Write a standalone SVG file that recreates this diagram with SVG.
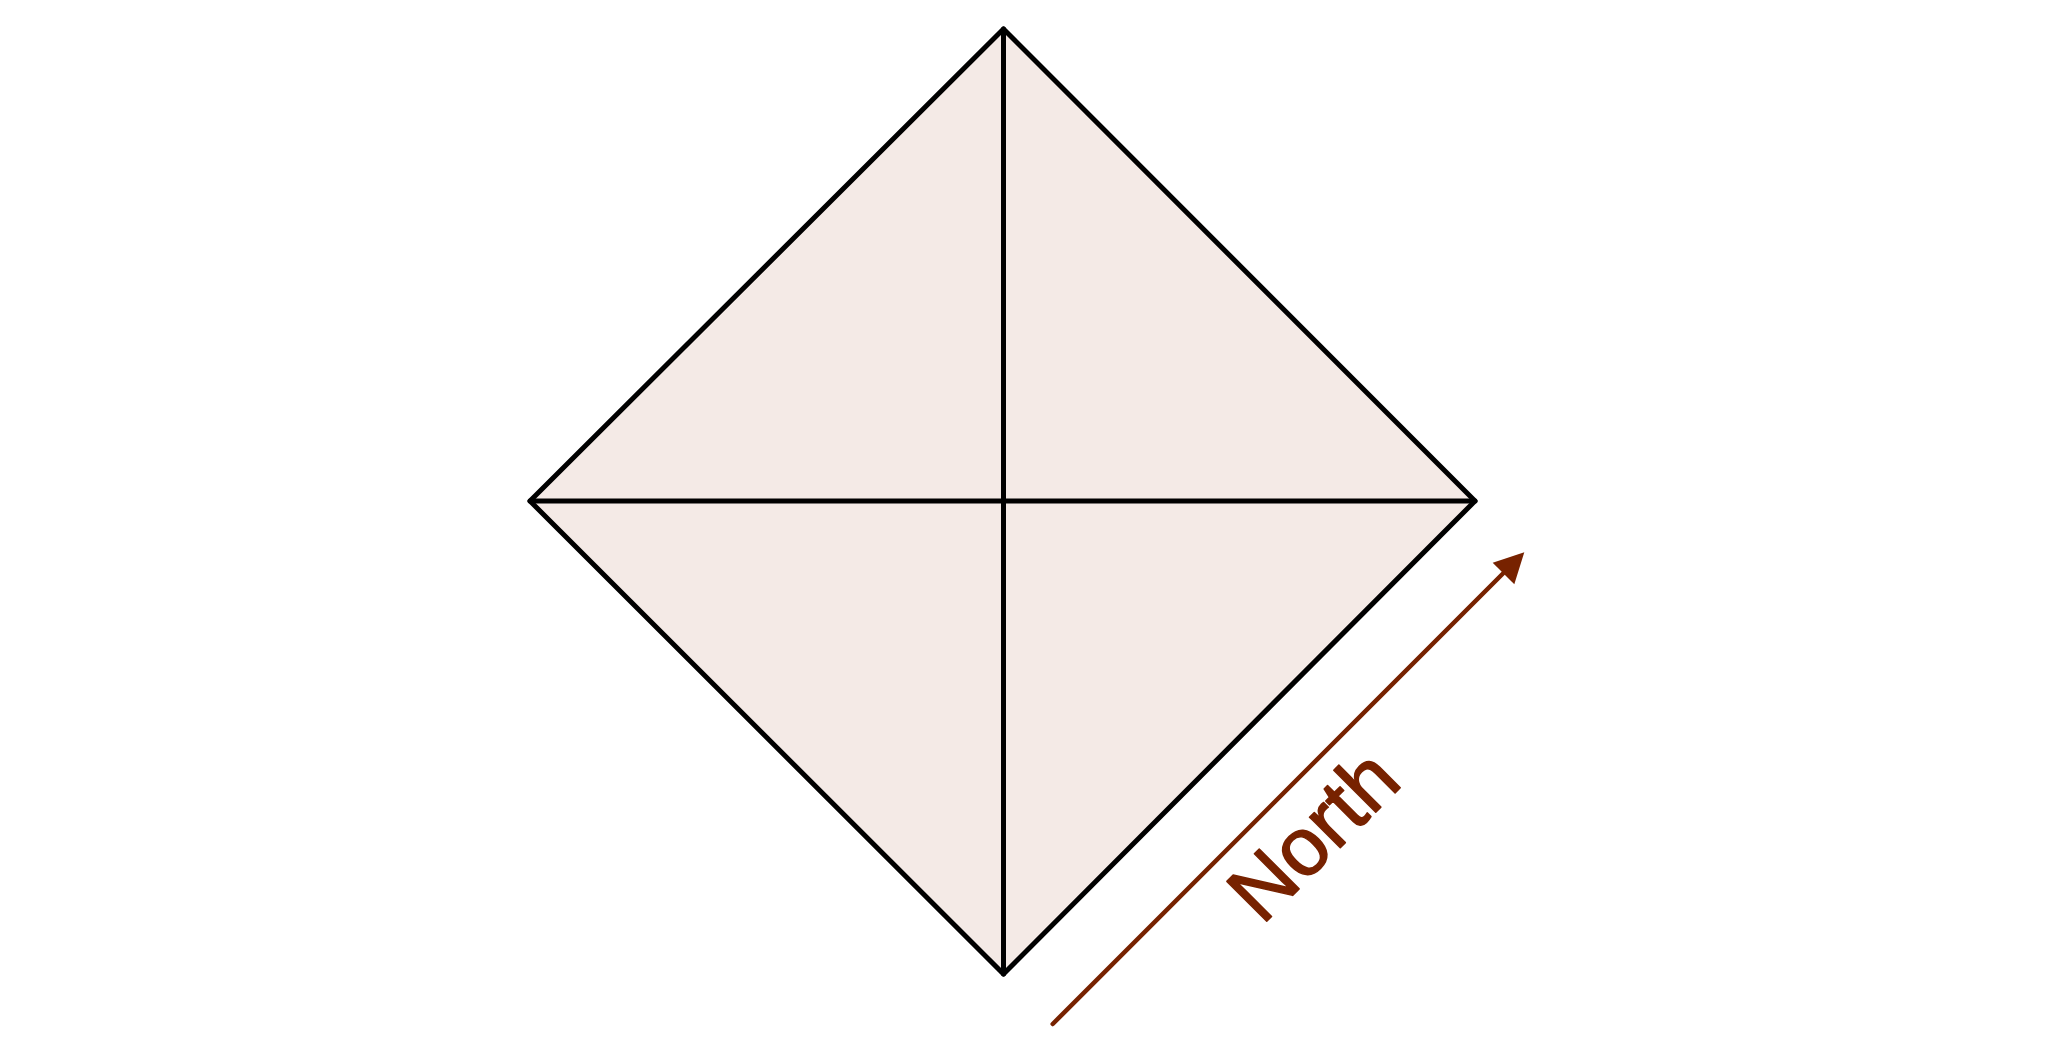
<svg xmlns="http://www.w3.org/2000/svg" width="2050" height="1054" viewBox="0 0 2050 1054">
<style>
.edge{stroke:#000;stroke-width:5;fill:none;stroke-linecap:round;stroke-linejoin:round}
.face{fill:#f4eae6;stroke:#000;stroke-width:5;stroke-linejoin:round}
.north{stroke:#772200;stroke-width:4.5;fill:none;stroke-linecap:round}
.label{font-family:"Liberation Sans",Arial,sans-serif;font-size:82px;fill:#772200;stroke:#772200;stroke-width:1.5;stroke-linejoin:round}
</style>
<rect width="2050" height="1054" fill="#fff"/>
<g id="diamond">
<polygon points="1003.5,29 1475,501 1003.5,974 530,501" class="face"/>
</g>
<g id="connectors">
<line x1="1003.5" y1="29" x2="1003.5" y2="974" class="edge"/>
<line x1="530" y1="501" x2="1475" y2="501" class="edge"/>
<line x1="1052.7" y1="1024" x2="1503" y2="573.5" class="north"/>
<polygon points="1524.3,552.3 1492.7,562.7 1514.3,584.3" fill="#772200"/>
</g>
<g id="north-label">
<text class="label" text-anchor="middle" transform="translate(1333,855) rotate(-45)">North</text>
</g>
</svg>
